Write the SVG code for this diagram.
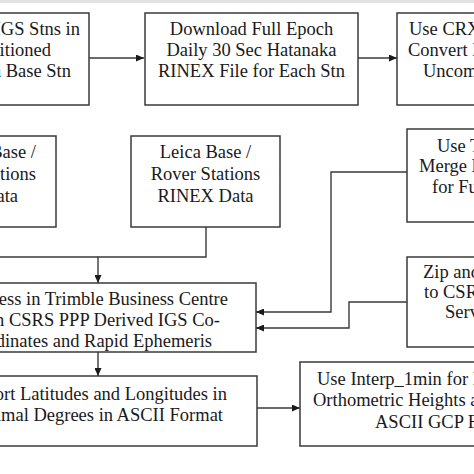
<svg xmlns="http://www.w3.org/2000/svg" width="474" height="474" viewBox="0 0 474 474">
<defs>
<style>
.b{fill:#fff;stroke:#3a3a3a;stroke-width:1.5}
.t{font-family:"Liberation Serif","Times New Roman",serif;font-size:18.5px;fill:#1a1a1a}
.e{text-anchor:end}
.c{text-anchor:middle}
.l{fill:none;stroke:#3a3a3a;stroke-width:1.4}
</style>
<marker id="ah" markerWidth="8" markerHeight="7" refX="8" refY="3.5" orient="auto" markerUnits="userSpaceOnUse">
<path d="M0,0 L8,3.5 L0,7 z" fill="#1a1a1a"/>
</marker>
</defs>
<rect x="0" y="0" width="474" height="474" fill="#fff"/>
<rect x="0" y="0" width="474" height="3" fill="#e2e2e2"/>

<g id="n1">
<rect class="b" x="-130" y="13" width="219" height="92"/>
<text class="t e" x="80" y="35">Select IGS Stns in</text>
<text class="t e" x="51" y="56">Well Positioned</text>
<text class="t e" x="71" y="77">Around Leica Base Stn</text>
</g>
<g id="n2">
<rect class="b" x="145" y="13" width="213" height="92"/>
<text class="t c" x="251.5" y="35">Download Full Epoch</text>
<text class="t c" x="251.5" y="56">Daily 30 Sec Hatanaka</text>
<text class="t c" x="251.5" y="77">RINEX File for Each Stn</text>
</g>
<g id="n3">
<rect class="b" x="397" y="13" width="213" height="92"/>
<text class="t" x="409" y="35">Use CRX2RNX to</text>
<text class="t" x="408" y="56">Convert Hatanaka to</text>
<text class="t" x="423" y="77">Uncompressed</text>
</g>
<g id="n4">
<rect class="b" x="-100" y="136" width="156" height="91"/>
<text class="t e" x="36" y="158">Trimble Base /</text>
<text class="t e" x="36" y="180">Rover Stations</text>
<text class="t e" x="18" y="202">GPS Data</text>
</g>
<g id="n5">
<rect class="b" x="131" y="136" width="149" height="91"/>
<text class="t c" x="205.5" y="158">Leica Base /</text>
<text class="t c" x="205.5" y="180">Rover Stations</text>
<text class="t c" x="205.5" y="202">RINEX Data</text>
</g>
<g id="n6">
<rect class="b" x="407" y="129" width="200" height="93"/>
<text class="t" x="437" y="152">Use Teqc to</text>
<text class="t" x="419" y="172">Merge Hourly Files</text>
<text class="t" x="432" y="193">for Full Day</text>
</g>
<g id="n7">
<rect class="b" x="407" y="257" width="200" height="90"/>
<text class="t" x="423" y="278">Zip and Upload</text>
<text class="t" x="424" y="298">to CSRS PPP</text>
<text class="t" x="445" y="318">Server</text>
</g>
<g id="n8">
<rect class="b" x="-60" y="283" width="316" height="69"/>
<text class="t e" x="228" y="305">Process in Trimble Business Centre</text>
<text class="t e" x="220" y="326">with CSRS PPP Derived IGS Co-</text>
<text class="t e" x="212" y="347">ordinates and Rapid Ephemeris</text>
</g>
<g id="n9">
<rect class="b" x="-60" y="376" width="317" height="70"/>
<text class="t e" x="227" y="400">Export Latitudes and Longitudes in</text>
<text class="t e" x="223" y="421">Decimal Degrees in ASCII Format</text>
</g>
<g id="n10">
<rect class="b" x="300" y="362" width="260" height="84"/>
<text class="t" x="317" y="385">Use Interp_1min for Deriving</text>
<text class="t" x="313" y="406">Orthometric Heights and Write</text>
<text class="t" x="375" y="428">ASCII GCP File</text>
</g>

<g id="connectors">
<path class="l" d="M89,58 H144" marker-end="url(#ah)"/>
<path class="l" d="M358,58 H397" marker-end="url(#ah)"/>
<path class="l" d="M-30,227 V257 H98"/>
<path class="l" d="M206,227 V257 H98 V283" marker-end="url(#ah)"/>
<path class="l" d="M407,172 H331 V312 H256" marker-end="url(#ah)"/>
<path class="l" d="M407,302 H349 V328 H256" marker-end="url(#ah)"/>
<path class="l" d="M98,352 V376" marker-end="url(#ah)"/>
<path class="l" d="M257,408 H300" marker-end="url(#ah)"/>
</g>
</svg>
